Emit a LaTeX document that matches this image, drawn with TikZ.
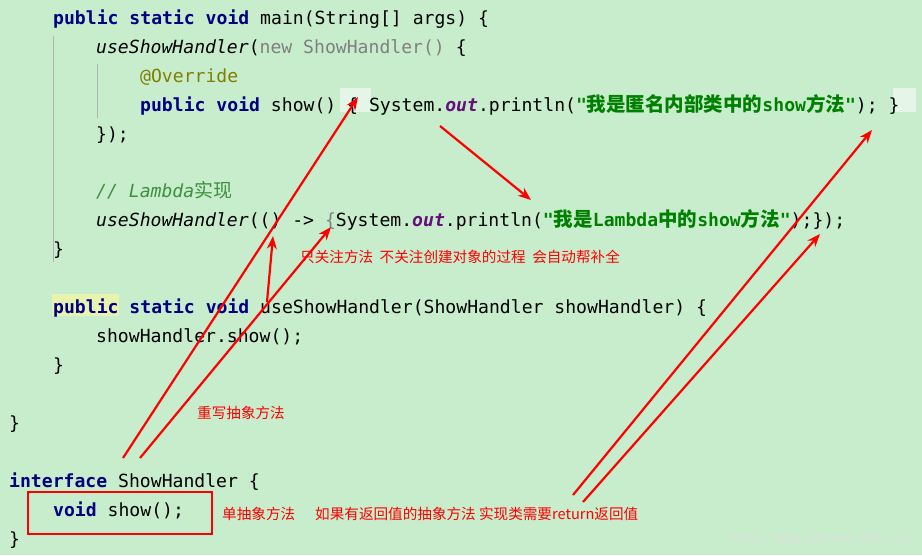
\documentclass[tikz,border=0pt]{standalone}
\usetikzlibrary{arrows.meta}
\usepackage{fontspec}
\setmonofont{DejaVu Sans Mono}
\newfontfamily\cjk{Noto Sans CJK SC}
\definecolor{bg}{HTML}{C7EDCC}
\definecolor{kw}{HTML}{000080}
\definecolor{str}{HTML}{008000}
\definecolor{ann}{HTML}{808000}
\definecolor{fld}{HTML}{660E7A}
\definecolor{cmt}{HTML}{3F8F3F}
\definecolor{gry}{HTML}{808080}
\definecolor{rd}{HTML}{FF0000}
\newcommand{\K}[1]{\textcolor{kw}{\bfseries #1}}
\newcommand{\Sg}[1]{\textcolor{str}{\bfseries #1}}
\newcommand{\Ch}[1]{{\cjk\bfseries\fontsize{19.5pt}{19pt}\selectfont #1}}
\newcommand{\Ou}{\textcolor{fld}{\bfseries\itshape out}}
\begin{document}
\begin{tikzpicture}[x=1pt,y=-1pt,
  code/.style={anchor=base west,inner sep=0pt,font=\ttfamily\fontsize{18.1pt}{20pt}\selectfont},
  note/.style={anchor=base west,inner sep=0pt,text=rd,font=\cjk\fontsize{14.6pt}{15pt}\selectfont},
  arr/.style={draw=rd,line width=2.2pt,-{Stealth[length=13pt,width=10pt]}}]
\fill[bg] (0,0) rectangle (922,555);
\useasboundingbox (0,0) rectangle (922,555);
\fill[white,opacity=0.55] (340,88) rectangle (371,112);
\fill[white,opacity=0.55] (893,88) rectangle (916,112);
\fill[yellow!40,opacity=0.6] (52,294) rectangle (119,316);
\draw[gray!60] (53,36) -- (53,262);
\draw[gray!60] (97,64) -- (97,118);
\node[code] (l1) at (53,24) {\K{public static void} main(String[] args) \{};
\node[code] (l2) at (96,53) {\textit{useShowHandler}(\textcolor{gry}{new ShowHandler()} \{};
\node[code] (l3) at (140,82) {\textcolor{ann}{@Override}};
\node[code] (l4) at (140,111) {\K{public void} show() \{ System.\Ou.println(\Sg{"\Ch{我是匿名内部类中的}show\Ch{方法}"}); \}};
\node[code] (l5) at (96,140) {\});};
\node[code] (l6) at (96,197) {\textcolor{cmt}{\itshape // Lambda{\cjk\fontsize{19pt}{19pt}\selectfont 实现}}};
\node[code] (l7) at (96,226) {\textit{useShowHandler}(() -> \textcolor{gry}{\{}System.\Ou.println(\Sg{"\Ch{我是}Lambda\Ch{中的}show\Ch{方法}"});\});};
\node[code] (l8) at (53,255) {\}};
\node[code] (l9) at (53,313) {\K{public} \K{static void} useShowHandler(ShowHandler showHandler) \{};
\node[code] (l10) at (96,342) {showHandler.show();};
\node[code] (l11) at (53,371) {\}};
\node[code] (l12) at (9,429) {\}};
\node[code] (l13) at (9,487) {\K{interface} ShowHandler \{};
\node[code] (l14) at (53,516) {\K{void} show();};
\node[code] (l15) at (9,545) {\}};
\node[draw=rd,line width=1.5pt,minimum width=184pt,minimum height=42pt,anchor=north west,inner sep=0pt] (box) at (27,491) {};
\node[note] (n1) at (300,262) {只关注方法 \ 不关注创建对象的过程 \ 会自动帮补全};
\node[note] (n2) at (197,418) {重写抽象方法};
\node[note] (n3) at (222,519) {单抽象方法};
\node[note] (n4) at (315,519) {如果有返回值的抽象方法 实现类需要return返回值};
\node[anchor=base east,inner sep=0pt,text=white!75!gray,font=\fontsize{14pt}{15pt}\selectfont\sffamily] (wm) at (912,542) {https://blog.csdn.net/ZGL\_cyy};
\coordinate (a1s) at (123,458); \coordinate (a1e) at (358,97);
\coordinate (a2s) at (140,458); \coordinate (a2e) at (331,227);
\coordinate (a3s) at (267,302); \coordinate (a3e) at (273,236);
\coordinate (a4s) at (440,126); \coordinate (a4e) at (531,200);
\coordinate (a5s) at (573,495); \coordinate (a5e) at (872,130);
\coordinate (a6s) at (583,502); \coordinate (a6e) at (820,234);
\foreach \i in {1,...,6} \draw[arr] (a\i s) -- (a\i e);
\end{tikzpicture}
\end{document}
